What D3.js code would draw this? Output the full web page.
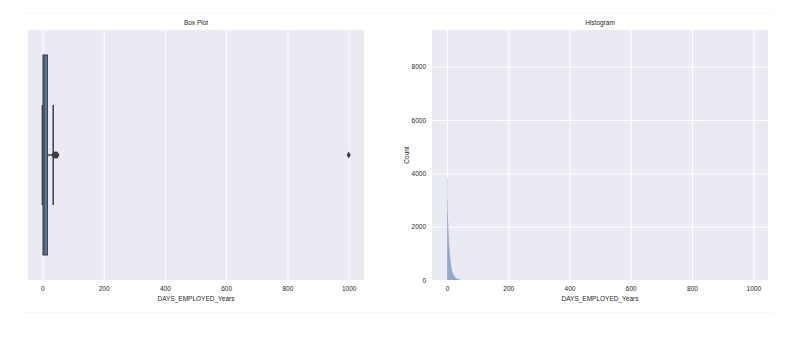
<!DOCTYPE html>
<html>
<head>
<meta charset="utf-8">
<script src="https://cdn.jsdelivr.net/npm/d3@7"></script>
<style>
  body { margin: 0; background: #fff; }
  text { font-family: "Liberation Sans", Arial, sans-serif; fill: #262626; }
</style>
</head>
<body>
<div id="app"></div>
<script>
// box plot summary (years)
const boxStats = { q1: 1.8, median: 6.1, q3: 16.5, whisLo: 0, whisHi: 35.3 };
const outliers = [36, 37, 38, 39, 40, 41, 42, 43, 44, 45, 46, 47, 48, 49, 1000];

// histogram: 1-year bins starting at 0
const binStarts = d3.range(0, 50);
const binCounts = [3830, 3000, 2500, 2150, 1850, 1600, 1380, 1200, 1050, 920,
  800, 700, 610, 530, 460, 400, 350, 310, 275, 245,
  220, 195, 175, 155, 140, 125, 110, 98, 86, 75,
  65, 56, 48, 41, 35, 29, 24, 20, 16, 13,
  10, 8, 6, 4, 3, 2, 2, 1, 1, 1];
const anomalyCount = 8925; // bin at 1000 years (too thin to show)

const xTicks = [0, 200, 400, 600, 800, 1000];
const yTicks = [0, 2000, 4000, 6000, 8000];

const width = 791, height = 352;
const fs = 6.5;
const svg = d3.select('#app').append('svg').attr('width', width).attr('height', height);

// faint figure borders
[13.5, 312.5].forEach((y) => {
  svg.append('line').attr('x1', 21).attr('x2', 773).attr('y1', y).attr('y2', y)
    .attr('stroke', '#f7f7f9').attr('stroke-width', 1);
});

const plotTop = 30, plotBottom = 280;

// ---------- Box plot ----------
const bx = d3.scaleLinear().domain([-47, 1050]).range([28, 364]);
const by = d3.scaleBand().domain(['a']).range([plotTop, plotBottom]);

const g1 = svg.append('g');
g1.append('rect').attr('x', 28).attr('y', plotTop).attr('width', 336).attr('height', plotBottom - plotTop).attr('fill', '#eaeaf2');

const ax1 = g1.append('g').attr('transform', `translate(0,${plotBottom})`)
  .call(d3.axisBottom(bx).tickValues(xTicks).tickFormat(d3.format('d')).tickSize(-(plotBottom - plotTop)).tickPadding(6));
ax1.select('.domain').remove();
ax1.selectAll('line').attr('stroke', '#fff').attr('stroke-width', 1);
ax1.selectAll('text').attr('font-size', fs).attr('fill', '#262626');

const cy = by('a') + by.bandwidth() / 2;
const bw = by.bandwidth() * 0.8;
const edge = '#3f3f3f';

// whiskers
g1.append('line').attr('x1', bx(boxStats.whisLo)).attr('x2', bx(boxStats.q1))
  .attr('y1', cy).attr('y2', cy).attr('stroke', edge).attr('stroke-width', 1.5);
g1.append('line').attr('x1', bx(boxStats.q3)).attr('x2', bx(boxStats.whisHi))
  .attr('y1', cy).attr('y2', cy).attr('stroke', edge).attr('stroke-width', 1.5);
[boxStats.whisLo, boxStats.whisHi].forEach((v) => {
  g1.append('line').attr('x1', bx(v)).attr('x2', bx(v))
    .attr('y1', cy - bw / 4).attr('y2', cy + bw / 4).attr('stroke', edge).attr('stroke-width', 1.5);
});
// box
g1.append('rect').attr('x', bx(boxStats.q1)).attr('width', bx(boxStats.q3) - bx(boxStats.q1))
  .attr('y', cy - bw / 2).attr('height', bw)
  .attr('fill', '#5975a4').attr('stroke', edge).attr('stroke-width', 1);
g1.append('line').attr('x1', bx(boxStats.median)).attr('x2', bx(boxStats.median))
  .attr('y1', cy - bw / 2).attr('y2', cy + bw / 2).attr('stroke', edge).attr('stroke-width', 0.8);
// fliers
const diamond = d3.symbol().type(d3.symbolDiamond).size(14);
g1.selectAll('.flier').data(outliers).join('path')
  .attr('class', 'flier')
  .attr('d', diamond)
  .attr('transform', (d) => `translate(${bx(d)},${cy})`)
  .attr('fill', edge);

g1.append('text').attr('x', 196).attr('y', 25).attr('text-anchor', 'middle').attr('font-size', fs).text('Box Plot');
g1.append('text').attr('x', 196).attr('y', 300.5).attr('text-anchor', 'middle').attr('font-size', fs).text('DAYS_EMPLOYED_Years');

// ---------- Histogram ----------
const hx = d3.scaleLinear().domain([-49, 1048]).range([432, 768]);
const hy = d3.scaleLinear().domain([0, anomalyCount * 1.05]).range([plotBottom, plotTop]);

const g2 = svg.append('g');
g2.append('rect').attr('x', 432).attr('y', plotTop).attr('width', 336).attr('height', plotBottom - plotTop).attr('fill', '#eaeaf2');

const ax2 = g2.append('g').attr('transform', `translate(0,${plotBottom})`)
  .call(d3.axisBottom(hx).tickValues(xTicks).tickFormat(d3.format('d')).tickSize(-(plotBottom - plotTop)).tickPadding(6));
ax2.select('.domain').remove();
ax2.selectAll('line').attr('stroke', '#fff').attr('stroke-width', 1);
ax2.selectAll('text').attr('font-size', fs).attr('fill', '#262626');

const ay2 = g2.append('g').attr('transform', 'translate(432,0)')
  .call(d3.axisLeft(hy).tickValues(yTicks).tickFormat(d3.format('d')).tickSize(-336).tickPadding(6));
ay2.select('.domain').remove();
ay2.selectAll('line').attr('stroke', '#fff').attr('stroke-width', 1);
ay2.selectAll('text').attr('font-size', fs).attr('fill', '#262626');

g2.selectAll('.bar').data(binStarts).join('rect')
  .attr('class', 'bar')
  .attr('x', (d) => hx(d))
  .attr('width', (d) => hx(d + 1) - hx(d))
  .attr('y', (d, i) => hy(binCounts[i]))
  .attr('height', (d, i) => plotBottom - hy(binCounts[i]))
  .attr('fill', '#4c72b0').attr('fill-opacity', 0.7);

g2.append('text').attr('x', 600).attr('y', 25).attr('text-anchor', 'middle').attr('font-size', fs).text('Histogram');
g2.append('text').attr('x', 600).attr('y', 300.5).attr('text-anchor', 'middle').attr('font-size', fs).text('DAYS_EMPLOYED_Years');
g2.append('text').attr('transform', 'translate(409,155) rotate(-90)').attr('text-anchor', 'middle')
  .attr('font-size', fs).text('Count');
</script>
</body>
</html>
